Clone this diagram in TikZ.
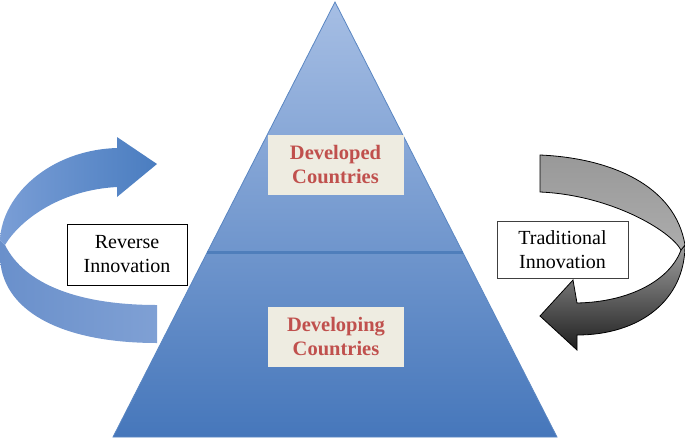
\documentclass[tikz,border=0pt]{standalone}
\usepackage{fontspec}
\setmainfont{Liberation Serif}
\usetikzlibrary{calc}
\definecolor{triTop}{HTML}{A6BEE4}
\definecolor{triBot}{HTML}{4677BB}
\definecolor{triEdge}{HTML}{5A86C2}
\definecolor{divLine}{HTML}{4F7EBB}
\definecolor{cream}{HTML}{EEECE1}
\definecolor{redtxt}{HTML}{C0504D}
\definecolor{blueDark}{HTML}{4A7DC0}
\definecolor{blueLight}{HTML}{7A9ED6}
\definecolor{blueLow}{HTML}{6A90CB}
\definecolor{blueLowR}{HTML}{7FA0D4}
\tikzset{
  labelbox/.style={draw=cream, fill=cream, line width=0.5pt, align=center,
    text=redtxt, font=\fontsize{20.5}{24}\selectfont\bfseries,
    minimum width=135pt, minimum height=59pt, inner sep=0pt},
  sidebox/.style={draw=black, fill=white, line width=0.9pt, align=center,
    font=\fontsize{20}{24}\selectfont, inner sep=0pt},
}
\begin{document}
\begin{tikzpicture}[x=1pt,y=-1pt]
\useasboundingbox (0,0) rectangle (685,437);
\clip (0,0) rectangle (685,437);
% triangle
\coordinate (apex) at (335,2);
\coordinate (bl) at (113,437);
\coordinate (br) at (557,437);
\shade[top color=triTop, bottom color=triBot, draw=triEdge, line width=0.8pt]
  (apex) -- (br) -- (bl) -- cycle;
\coordinate (dl) at ($(apex)!0.5747!(bl)$);
\coordinate (dr) at ($(apex)!0.5747!(br)$);
\draw[divLine, line width=3pt] (dl) -- (dr);
% left arrow (reverse innovation)
\shade[left color=blueLow, right color=blueLowR]
  (5,245) .. controls (25,285) and (80,305) .. (157,305) -- (157,343)
  .. controls (60,343) and (0,310) .. (0,255) -- (0,240) -- cycle;
\shade[left color=blueLight, right color=blueDark]
  (0,240) .. controls (2,195) and (50,150) .. (117,148) -- (117,137)
  -- (157,164) -- (117,197) -- (117,187)
  .. controls (60,190) and (20,220) .. (5,245) -- cycle;
% right arrow (traditional innovation)
\shade[top color=gray!75, bottom color=black!88, draw=black, line width=0.8pt]
  (681,250) .. controls (670,280) and (630,302) .. (577,303) -- (573,280)
  -- (540,316) -- (577,350) -- (577,335)
  .. controls (640,335) and (685,300) .. (685,245) -- cycle;
\shade[top color=gray!80, bottom color=gray!65, draw=black, line width=0.8pt]
  (540,155) .. controls (610,158) and (675,185) .. (685,245) -- (681,250)
  .. controls (670,230) and (610,195) .. (540,192) -- cycle;
% labels
\node[labelbox] (developed) at (335.5,164.5) {Developed\\Countries};
\node[labelbox] (developing) at (336,336.5) {Developing\\Countries};
\node[sidebox, minimum width=120pt, minimum height=61pt] (reverse) at (127,254.5) {Reverse\\Innovation};
\node[sidebox, draw=black!75, minimum width=131pt, minimum height=57pt] (traditional) at (562.5,249.5) {Traditional\\Innovation};
\end{tikzpicture}
\end{document}
